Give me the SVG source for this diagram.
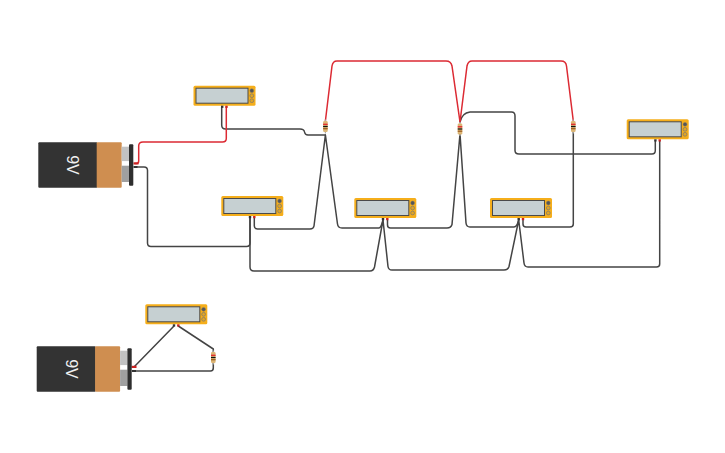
<svg xmlns="http://www.w3.org/2000/svg" xmlns:xlink="http://www.w3.org/1999/xlink" width="725" height="453" viewBox="0 0 725 453">
<style>
.w{fill:none;stroke-width:1.5;stroke-linejoin:round;stroke-linecap:round}
.k{stroke:#444}.r{stroke:#dc2a33}
.t{font-family:"Liberation Sans",Arial,sans-serif;font-size:16px;fill:#f0f0f0;text-anchor:middle}
</style>
<defs>
<g id="mm">
<rect x="0" y="0" width="62" height="20" rx="1.500" fill="#f5ae1b"/>
<rect x="2.500" y="2.500" width="52" height="15" fill="#c6d0d2" stroke="#4a4a4a" stroke-width="1"/>
<circle cx="58.300" cy="5" r="1.900" fill="#555" stroke="#777" stroke-width=".5"/>
<circle cx="58.300" cy="10" r="1.900" fill="#e0a526" stroke="#777" stroke-width=".7"/>
<circle cx="58.300" cy="15" r="1.900" fill="#e0a526" stroke="#777" stroke-width=".7"/>
<rect x="27.500" y="20" width="2.400" height="2.200" fill="#333"/>
<rect x="31.800" y="20" width="2.400" height="2.200" fill="#cc2222"/>
</g>
<g id="bat">
<rect x="0" y="0" width="59" height="45.400" rx="1" fill="#333"/>
<rect x="58.400" y="0" width="25" height="45.400" rx="1" fill="#cf8e50"/>
<rect x="83.400" y="4.400" width="7.400" height="14.400" fill="#c2c2c2"/>
<rect x="83.400" y="23.400" width="7.400" height="16.300" fill="#a0a0a0"/>
<rect x="90.700" y="2" width="4.300" height="41.400" rx="1" fill="#2e2e2e"/>
</g>
<g id="res">
<rect x="-.6" y="-7" width="1.200" height="14" fill="#aaa"/>
<rect x="-2.300" y="-5.500" width="4.600" height="11" rx="1.300" fill="#dcb574"/>
<rect x="-2.300" y="-2.800" width="4.600" height="1.200" fill="#e3202c"/>
<rect x="-2.300" y="-.6" width="4.600" height="1.200" fill="#111"/>
<rect x="-2.300" y="1.600" width="4.600" height="1.200" fill="#9a5a1e"/>
</g>
</defs>
<rect width="725" height="453" fill="#fff"/>
<g id="connectors">
<path class="w k" d="M136 167H144Q147.500 167 147.500 170.500V243Q147.500 246.500 151 246.500H246.500Q250 246.500 250 243V218"/>
<path class="w k" d="M221.700 107V125Q221.700 129 225.500 129H300Q304 129 304.500 132Q305 135 308 135H325.400"/>
<path class="w k" d="M254.300 218V226Q254.300 229 257.500 229H310Q313.500 229 314 226L325.400 135L337.500 224Q338 228 342 228H379Q381 228 383 220"/>
<path class="w k" d="M250 218V267Q250 271 254 271H370Q373.500 271 374.500 267L383 220L388 266.500Q388.500 270 392 270H504Q508 270 509 266.500L518.700 220L524 263Q524.500 267 528 267H656.500Q659.700 267 659.700 264V141"/>
<path class="w k" d="M387.500 220V225Q387.500 228 390.500 228H447Q451 228 452 224.500L460 134L466 223Q466.500 227 470 227H514Q517 227 518.700 220"/>
<path class="w k" d="M523 220V224Q523 227 526 227H570Q573.300 227 573.300 224V131"/>
<path class="w k" d="M655.300 141V150.500Q655.300 154 652 154H519Q515 154 515 150.500V116Q515 112 511.500 112H470Q462 113 460 122"/>
<path class="w r" d="M135 163.500H136.500Q138.700 163.500 138.700 161V146Q138.700 142 143 142H222.500Q226.300 142 226.300 138.500V107"/>
<path class="w r" d="M325.400 121L332 66Q332.800 61 337 61H446Q451 61 452 66L460 122L467 66Q468 61 472 61H561Q566 61 566.500 66L573.300 121"/>
<path class="w k" d="M174 326L134 367"/>
<path class="w k" d="M178.300 326L213.300 349V352"/>
<path class="w k" d="M134 371H210.500Q213.300 371 213.300 368V363"/>
<rect x="133.500" y="162.300" width="5" height="2.200" fill="#cc2222"/>
<rect x="133.500" y="166" width="4" height="2" fill="#333"/>
<rect x="131.500" y="365.800" width="5" height="2.200" fill="#cc2222"/>
<rect x="132" y="370" width="4" height="2" fill="#333"/>
</g>
<g id="battery1"><use xlink:href="#bat" href="#bat" x="38.300" y="142.300"/><text class="t" transform="translate(67 165) rotate(90)">9V</text></g>
<g id="battery2"><use xlink:href="#bat" href="#bat" x="36.700" y="346.300"/><text class="t" transform="translate(65.500 369) rotate(90)">9V</text></g>
<g id="meter1"><use xlink:href="#mm" href="#mm" x="193.500" y="85.700"/></g>
<g id="meter2"><use xlink:href="#mm" href="#mm" x="221.300" y="196"/></g>
<g id="meter3"><use xlink:href="#mm" href="#mm" x="354.300" y="198"/></g>
<g id="meter4"><use xlink:href="#mm" href="#mm" x="490" y="198"/></g>
<g id="meter5"><use xlink:href="#mm" href="#mm" x="626.700" y="119.300"/></g>
<g id="meter6"><use xlink:href="#mm" href="#mm" x="145.300" y="304.300"/></g>
<g id="r1"><use xlink:href="#res" href="#res" x="325.400" y="126.500"/></g>
<g id="r2"><use xlink:href="#res" href="#res" x="460" y="129"/></g>
<g id="r3"><use xlink:href="#res" href="#res" x="573.300" y="126.500"/></g>
<g id="r4"><use xlink:href="#res" href="#res" x="213.300" y="357.500"/></g>
</svg>
